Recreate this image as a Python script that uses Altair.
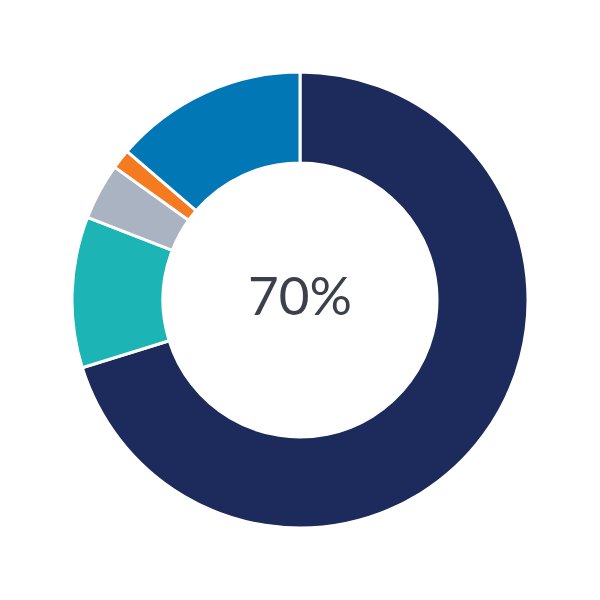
import altair as alt
import pandas as pd

categories = ["A", "B", "C", "D", "E"]
values = [70.2, 10.7, 4.0, 1.4, 13.7]
colors = ["#1c2b5b", "#1db4b6", "#a9b3c1", "#f47b20", "#0277b6"]
center_label = ["70%"]

df = pd.DataFrame({"cat": categories, "value": values, "order": list(range(len(categories)))})

arc = alt.Chart(df).mark_arc(innerRadius=137, outerRadius=228, stroke="white", strokeWidth=3).encode(
    theta=alt.Theta("value:Q", stack=True),
    color=alt.Color("cat:N", scale=alt.Scale(domain=categories, range=colors), legend=None),
    order=alt.Order("order:Q"),
)

txt = alt.Chart(pd.DataFrame({"t": center_label})).mark_text(
    font="Lato", fontSize=53, color="#3b414a", baseline="middle", align="center", dy=-1
).encode(text="t:N")

chart = alt.layer(arc, txt).properties(
    width=584, height=584, padding=0, autosize=alt.AutoSizeParams(type="none")
).configure_view(stroke=None)

chart.save("out.html", embed_options={"renderer": "svg", "actions": False})
